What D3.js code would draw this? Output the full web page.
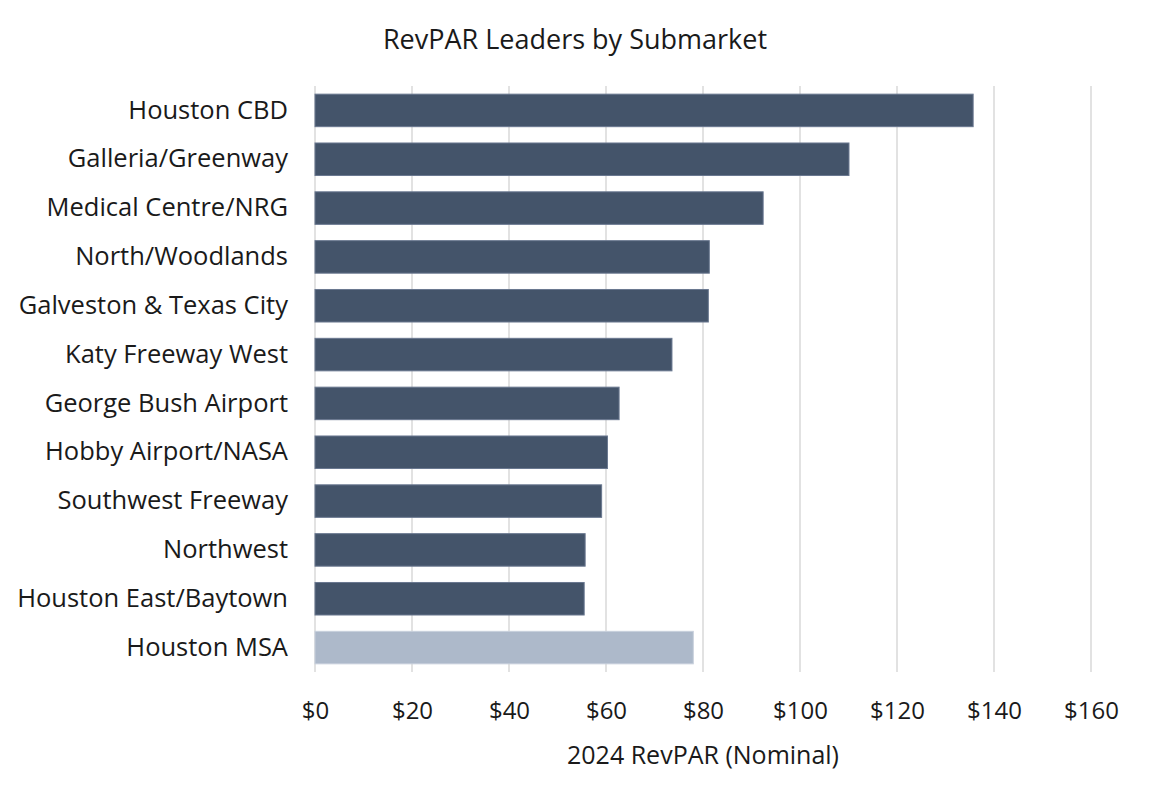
<!DOCTYPE html>
<html>
<head>
<meta charset="utf-8">
<script src="https://cdn.jsdelivr.net/npm/d3@7"></script>
<style>
  body { margin: 0; background: #fff; }
  text { font-family: "Open Sans", "Noto Sans", sans-serif; fill: #1a1a1a; }
</style>
</head>
<body>
<div id="chart"></div>
<script>
// --- data
var submarkets = ['Houston CBD', 'Galleria/Greenway', 'Medical Centre/NRG', 'North/Woodlands',
  'Galveston & Texas City', 'Katy Freeway West', 'George Bush Airport', 'Hobby Airport/NASA',
  'Southwest Freeway', 'Northwest', 'Houston East/Baytown', 'Houston MSA'];
var revpar = [135.7, 110.1, 92.4, 81.3, 81.1, 73.6, 62.7, 60.3, 59.1, 55.7, 55.5, 78.0];
var xTicks = [0, 20, 40, 60, 80, 100, 120, 140, 160];

var W = 1150, H = 800;
var M = {top: 86, right: 59, bottom: 128, left: 315};
var w = W - M.left - M.right,
    h = H - M.top - M.bottom;

var svg = d3.select('#chart').append('svg')
  .attr('width', W)
  .attr('height', H);

var plot = svg.append('g')
  .attr('transform', 'translate(' + M.left + ',' + M.top + ')');

var x = d3.scaleLinear().domain([0, 160]).range([0, w]);
var y = d3.scaleBand().domain(submarkets).range([0, h]).paddingInner(0.334).paddingOuter(0.167);

// gridlines
plot.selectAll('.grid')
  .data(xTicks)
  .enter().append('line')
  .attr('x1', function(d) { return x(d); })
  .attr('x2', function(d) { return x(d); })
  .attr('y1', 0)
  .attr('y2', h)
  .style('stroke', '#d9d9d9')
  .style('stroke-width', 1.5);

// bars
plot.selectAll('.bar')
  .data(submarkets)
  .enter().append('rect')
  .attr('x', x(0))
  .attr('y', function(d) { return y(d); })
  .attr('width', function(d, i) { return x(revpar[i]) - x(0); })
  .attr('height', y.bandwidth())
  .style('fill', function(d) { return d === 'Houston MSA' ? '#ADB9CA' : '#44546A'; })
  .style('stroke', function(d) { return d === 'Houston MSA' ? '#c8d0dc' : '#6a7890'; })
  .style('stroke-width', 1);

// y labels
var yAxis = d3.axisLeft(y).tickSize(0).tickPadding(27);
var gy = plot.append('g').call(yAxis);
gy.select('.domain').remove();
gy.selectAll('text').style('font-size', '25.5px').style('fill', '#1a1a1a');

// x labels
var xAxis = d3.axisBottom(x).tickValues(xTicks).tickSize(0).tickPadding(30)
  .tickFormat(function(d) { return '$' + d; });
var gx = plot.append('g').attr('transform', 'translate(0,' + h + ')').call(xAxis);
gx.select('.domain').remove();
gx.selectAll('text').style('font-size', '24px').style('fill', '#1a1a1a');

// titles
svg.append('text')
  .attr('x', 575)
  .attr('y', 49)
  .attr('text-anchor', 'middle')
  .style('font-size', '27px')
  .text('RevPAR Leaders by Submarket');

svg.append('text')
  .attr('x', M.left + w / 2)
  .attr('y', 764)
  .attr('text-anchor', 'middle')
  .style('font-size', '25px')
  .text('2024 RevPAR (Nominal)');
</script>
</body>
</html>
